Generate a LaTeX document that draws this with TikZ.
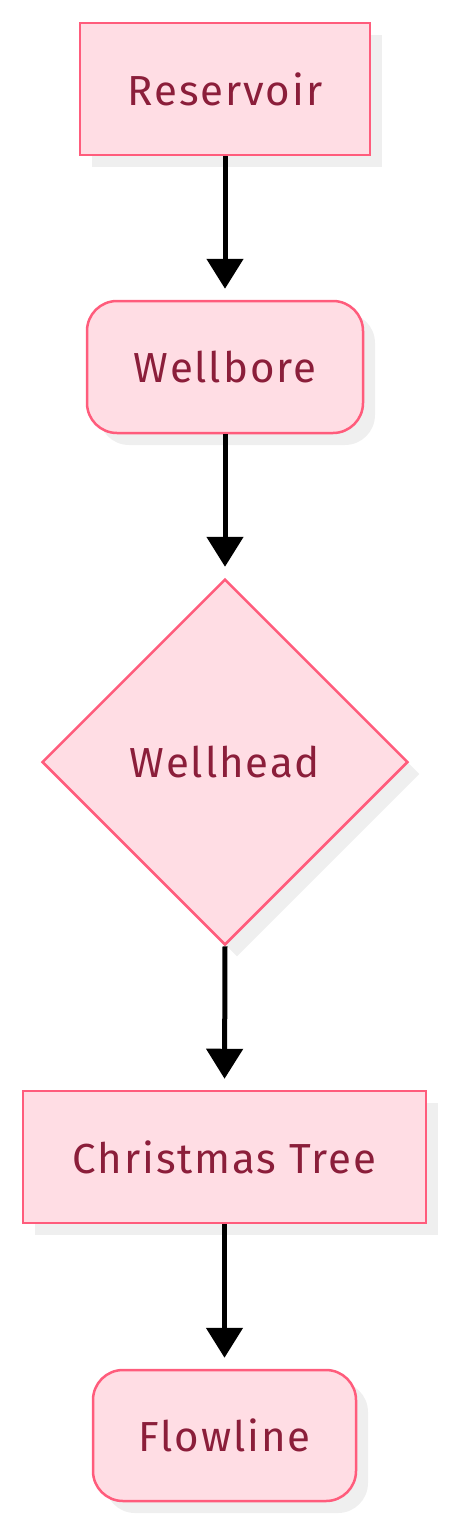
\documentclass[tikz,border=0pt]{standalone}
\usepackage{fontspec}
\setmainfont{Fira Sans}[LetterSpace=4.5]
\usetikzlibrary{arrows.meta,shapes.geometric,shadows}
\definecolor{boxfill}{HTML}{FFDDE4}
\definecolor{boxline}{HTML}{FF5C7C}
\definecolor{boxtext}{HTML}{8B1E3A}
\definecolor{shadowc}{HTML}{EFEFEF}
\begin{document}
\begin{tikzpicture}[x=1pt,y=-1pt,
  base/.style={draw=boxline, fill=boxfill, line width=2.5pt, text=boxtext,
    font=\fontsize{42}{50}\selectfont, inner sep=0pt,
    drop shadow={shadow xshift=12pt, shadow yshift=-12pt, fill=shadowc, opacity=1}},
  sqbox/.style={base, rectangle},
  rbox/.style={base, rectangle, rounded corners=30pt},
  dbox/.style={base, diamond, aspect=1},
  flow/.style={line width=5pt, draw=black, -{Triangle[width=36pt,length=30pt]}, shorten >=11pt}
]
\useasboundingbox (0,0) rectangle (453,1536);
\node[sqbox, minimum width=290pt, minimum height=132pt] (res) at (225,89) {Reservoir};
\node[rbox, minimum width=276pt, minimum height=132pt] (wb) at (225,367) {Wellbore};
\node[dbox, minimum width=366pt, minimum height=366pt] (wh) at (225,762) {Wellhead};
\node[sqbox, minimum width=403pt, minimum height=132pt] (ct) at (224.5,1157) {Christmas Tree};
\node[rbox, minimum width=263pt, minimum height=131pt] (fl) at (224.5,1435.5) {Flowline};
\draw[flow] (res.south) -- (wb.north);
\draw[flow] (wb.south) -- (wh.north);
\draw[flow] (wh.south) -- (ct.north);
\draw[flow] (ct.south) -- (fl.north);
\end{tikzpicture}
\end{document}
